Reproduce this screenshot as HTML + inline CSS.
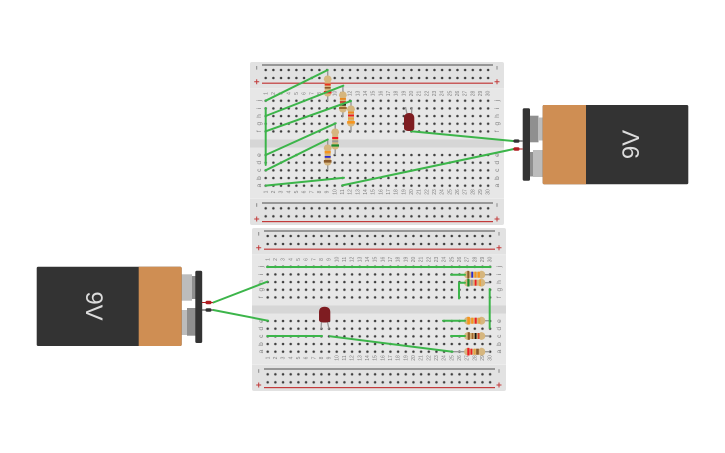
<!DOCTYPE html>
<html><head><meta charset="utf-8"><style>
html,body{margin:0;padding:0;background:#fff;width:725px;height:453px;overflow:hidden}
svg{display:block}
text{font-family:"Liberation Sans",sans-serif}
.n text{font-size:5px;fill:#808080;text-anchor:middle}
.w{stroke:#3cb54a;stroke-width:2;fill:none;stroke-linecap:round}
</style></head><body>
<svg width="725" height="453" viewBox="0 0 725 453" xmlns="http://www.w3.org/2000/svg">
<defs>
<pattern id="h" patternUnits="userSpaceOnUse" width="7.67" height="7.67">
<circle cx="3.835" cy="3.835" r="1.25" fill="#3d3d3d"/>
</pattern>
<pattern id="r" patternUnits="userSpaceOnUse" width="7.67" height="8">
<circle cx="3.835" cy="4" r="1.25" fill="#3d3d3d"/>
</pattern>
<g id="nums" class="n">
<text transform="translate(17.3,0) rotate(-90)">1</text><text transform="translate(25,0) rotate(-90)">2</text><text transform="translate(32.6,0) rotate(-90)">3</text><text transform="translate(40.3,0) rotate(-90)">4</text><text transform="translate(48,0) rotate(-90)">5</text><text transform="translate(55.6,0) rotate(-90)">6</text><text transform="translate(63.3,0) rotate(-90)">7</text><text transform="translate(71,0) rotate(-90)">8</text><text transform="translate(78.6,0) rotate(-90)">9</text><text transform="translate(86.3,0) rotate(-90)">10</text><text transform="translate(94,0) rotate(-90)">11</text><text transform="translate(101.7,0) rotate(-90)">12</text><text transform="translate(109.3,0) rotate(-90)">13</text><text transform="translate(117,0) rotate(-90)">14</text><text transform="translate(124.7,0) rotate(-90)">15</text><text transform="translate(132.3,0) rotate(-90)">16</text><text transform="translate(140,0) rotate(-90)">17</text><text transform="translate(147.7,0) rotate(-90)">18</text><text transform="translate(155.3,0) rotate(-90)">19</text><text transform="translate(163,0) rotate(-90)">20</text><text transform="translate(170.7,0) rotate(-90)">21</text><text transform="translate(178.3,0) rotate(-90)">22</text><text transform="translate(186,0) rotate(-90)">23</text><text transform="translate(193.7,0) rotate(-90)">24</text><text transform="translate(201.4,0) rotate(-90)">25</text><text transform="translate(209,0) rotate(-90)">26</text><text transform="translate(216.7,0) rotate(-90)">27</text><text transform="translate(224.4,0) rotate(-90)">28</text><text transform="translate(232,0) rotate(-90)">29</text><text transform="translate(239.7,0) rotate(-90)">30</text>
</g>
<g id="lets" class="n">
<text transform="translate(0,38.7) rotate(-90)" dy="1.8" style="font-size:6.5px">j</text><text transform="translate(0,46.4) rotate(-90)" dy="1.8" style="font-size:6.5px">i</text><text transform="translate(0,54) rotate(-90)" dy="1.8" style="font-size:6.5px">h</text><text transform="translate(0,61.7) rotate(-90)" dy="1.8" style="font-size:6.5px">g</text><text transform="translate(0,69.4) rotate(-90)" dy="1.8" style="font-size:6.5px">f</text><text transform="translate(0,93) rotate(-90)" dy="1.8" style="font-size:6.5px">e</text><text transform="translate(0,100.7) rotate(-90)" dy="1.8" style="font-size:6.5px">d</text><text transform="translate(0,108.3) rotate(-90)" dy="1.8" style="font-size:6.5px">c</text><text transform="translate(0,116) rotate(-90)" dy="1.8" style="font-size:6.5px">b</text><text transform="translate(0,123.6) rotate(-90)" dy="1.8" style="font-size:6.5px">a</text>
</g>
<g id="board">
<rect width="254" height="163" rx="2" fill="#e2e2e2"/>
<rect y="27" width="254" height="109" fill="#e7e7e7"/>
<rect y="77.5" width="254" height="8" fill="#d6d6d6"/>
<rect y="26.4" width="254" height=".7" fill="#f0f0f0"/>
<rect y="136" width="254" height=".7" fill="#f0f0f0"/>
<rect x="12" y="2.4" width="231" height="1.2" fill="#666"/>
<rect x="12" y="20.6" width="231" height="1.2" fill="#c23a3a"/>
<rect x="12" y="140.4" width="231" height="1.2" fill="#666"/>
<rect x="12" y="159" width="231" height="1.2" fill="#c23a3a"/>
<g transform="translate(11.87,4)"><rect width="230.1" height="16" fill="url(#r)"/></g>
<g transform="translate(11.87,142.3)"><rect width="230.1" height="16" fill="url(#r)"/></g>
<g transform="translate(11.87,34.87)"><rect width="230.1" height="38.35" fill="url(#h)"/></g>
<g transform="translate(11.87,89.15)"><rect width="230.1" height="38.35" fill="url(#h)"/></g>
<use href="#nums" y="31.5"/><use href="#nums" y="130"/>
<use href="#lets" x="9"/><use href="#lets" x="247"/>
<rect x="6.2" y="4" width="1" height="3.6" fill="#888"/>
<rect x="246.5" y="4" width="1" height="3.6" fill="#888"/>
<path d="M4.2 19.7h5M6.7 17.2v5M244.5 19.7h5M247 17.2v5" stroke="#c23a3a" stroke-width="1"/>
<rect x="6.2" y="141.2" width="1" height="3.6" fill="#888"/>
<rect x="246.5" y="141.2" width="1" height="3.6" fill="#888"/>
<path d="M4.2 157h5M6.7 154.5v5M244.5 157h5M247 154.5v5" stroke="#c23a3a" stroke-width="1"/>
</g>
<path id="rb" d="M-10.5 0C-10.5-3.2-8-3.9-6-3.9L-5-3H5L6-3.9C8-3.9 10.5-3.2 10.5 0C10.5 3.2 8 3.9 6 3.9L5 3H-5L-6 3.9C-8 3.9-10.5 3.2-10.5 0Z" fill="#d6b67e"/>
</defs>

<use href="#board" x="250" y="62"/>
<use href="#board" x="252" y="228"/>

<!-- top board resistors -->
<g stroke="#999" stroke-width="1.4">
<path d="M327.7 70V101M342.9 86V117M351 101V132M335.2 124V155M327.7 139V170"/>
</g>
<g transform="translate(327.7,86) rotate(90)"><use href="#rb"/><rect x="-2.5" y="-3" width="2" height="6" fill="#e8321e"/><rect x="1" y="-3" width="1.6" height="6" fill="#8a5a2b"/><rect x="5" y="-3.8" width="2.4" height="7.6" fill="#ee1c25"/></g>
<g transform="translate(342.9,102) rotate(90)"><use href="#rb"/><rect x="-4" y="-3" width="1.8" height="6" fill="#e8871e"/><rect x="-.8" y="-3" width="1.6" height="6" fill="#c8302a"/><rect x="1.6" y="-3" width="2" height="6" fill="#111"/><rect x="5" y="-3.8" width="2" height="7.6" fill="#9a6a30"/></g>
<g transform="translate(351,116) rotate(90)"><use href="#rb"/><rect x="-4.4" y="-3" width="1.8" height="6" fill="#f08a1e"/><rect x="-1.4" y="-3" width="1.8" height="6" fill="#ee1c25"/><rect x="1.6" y="-3" width="1.8" height="6" fill="#e8a23e"/><rect x="5" y="-3.8" width="2.6" height="7.6" fill="#f7941d"/></g>
<g transform="translate(335.2,139) rotate(90)"><use href="#rb"/><rect x="-2" y="-3" width="2" height="6" fill="#ee1c25"/><rect x="1.3" y="-3" width="2" height="6" fill="#9a9a9a"/><rect x="5.4" y="-3.8" width="2.2" height="7.6" fill="#1c8a2e"/></g>
<g transform="translate(327.7,155) rotate(90)"><use href="#rb"/><rect x="-4" y="-3" width="2.4" height="6" fill="#f7941d"/><rect x="1" y="-3" width="1.8" height="6" fill="#2a2ad0"/><rect x="5" y="-3.8" width="2.6" height="7.6" fill="#8a5a2b"/></g>

<!-- top board wires -->
<g class="w">
<path d="M265.7 100.7L327.7 70M265.7 116L343.3 85.7M265.7 131.3L351 101M265.7 155L335.7 123.3M265.7 170.3L327.7 139.5M265.7 108V165M265.7 185.6L344 177.8M342.3 185.4L514 149M411 131.3L513 141"/>
</g>

<!-- top LED -->
<path d="M405.5 107L407 114M412 107L411.5 114" stroke="#999" stroke-width="1.3"/>
<path d="M404 118C404 115 406 113 409.2 113C412.4 113 414.3 115 414.3 118V128C414.3 130 412.5 131 409.2 131C406 131 404 130 404 128Z" fill="#7e1c21"/>

<!-- right battery -->
<rect x="530" y="115.7" width="8.5" height="26.6" fill="#8f8f8f"/>
<rect x="538" y="117.5" width="5" height="23" fill="#bcbcbc"/>
<rect x="530" y="152" width="3.5" height="24.5" fill="#8f8f8f"/>
<rect x="533" y="150" width="10" height="27" fill="#bcbcbc"/>
<rect x="522.7" y="108.3" width="7.3" height="72.4" rx="1.5" fill="#333"/>
<rect x="542.7" y="105" width="145.6" height="79.3" rx="1.5" fill="#333"/>
<path d="M586 105H544.2a1.5 1.5 0 0 0-1.5 1.5V182.8a1.5 1.5 0 0 0 1.5 1.5H586Z" fill="#cf8e53"/>
<text transform="translate(639,144.5) rotate(-90)" font-size="24" fill="#dcdcdc" text-anchor="middle">9V</text>
<path d="M513 141H522.7" stroke="#333" stroke-width="1"/><rect x="513.5" y="139.4" width="6" height="3.4" rx="1.5" fill="#333"/>
<path d="M513 149H522.7" stroke="#b01e22" stroke-width="1"/><rect x="513.5" y="147.3" width="6" height="3.4" rx="1.5" fill="#b01e22"/>

<!-- bottom board resistors -->
<path d="M459 274.7H489.7M459 282.7H489.7M452 320.7H489.7M452 336H489.7M452 351.7H489.7" stroke="#999" stroke-width="1.4"/>
<g transform="translate(474.7,274.7)"><use href="#rb"/><rect x="-7.4" y="-3.8" width="2" height="7.6" fill="#8a5a2b"/><rect x="-3.4" y="-3" width="1.8" height="6" fill="#2a2ad0"/><rect x="-.2" y="-3" width="1.8" height="6" fill="#f7941d"/><rect x="3" y="-3" width="2.2" height="6" fill="#f7941d"/></g>
<g transform="translate(474.7,282.7)"><use href="#rb"/><rect x="-7.4" y="-3.8" width="2.2" height="7.6" fill="#1c8a2e"/><rect x="-4" y="-3" width="2" height="6" fill="#9a9a9a"/><rect x="0" y="-3" width="1.8" height="6" fill="#ee1c25"/><rect x="4.5" y="-3.4" width="1.8" height="6.8" fill="#e8a23e"/></g>
<g transform="translate(474.7,320.7)"><use href="#rb"/><rect x="-7.4" y="-3.8" width="2.6" height="7.6" fill="#f7941d"/><rect x="-3.4" y="-3" width="2" height="6" fill="#f7941d"/><rect x="0" y="-3" width="2" height="6" fill="#ee1c25"/><rect x="3.6" y="-3" width="2" height="6" fill="#e8a23e"/></g>
<g transform="translate(474.7,336)"><use href="#rb"/><rect x="-7" y="-3.8" width="2.2" height="7.6" fill="#8a5a2b"/><rect x="-3" y="-3" width="1.6" height="6" fill="#a0632c"/><rect x="0" y="-3" width="1.8" height="6" fill="#111"/><rect x="3" y="-3" width="1.8" height="6" fill="#d0402a"/></g>
<g transform="translate(474.7,351.7)"><use href="#rb"/><rect x="-7.4" y="-3.8" width="2.2" height="7.6" fill="#ee1c25"/><rect x="-4.2" y="-3" width="1.8" height="6" fill="#ee1c25"/><rect x="-.8" y="-3" width="1.6" height="6" fill="#e8a23e"/><rect x="1.5" y="-3" width="2.6" height="6" fill="#8a5a2b"/></g>

<!-- bottom board wires -->
<g class="w">
<path d="M267 267H490.5M451 274.7H465M459 282.7H465M459 282.7V298.5M489.7 289V328M443 320.7H465M451 336H465M330 336.3L452.5 351.7M267.3 336H322M213.3 302.5L267.3 281.7M213.3 310L268 320.7"/>
</g>

<!-- bottom LED -->
<path d="M321.5 322L321 329M327.5 322L329 329" stroke="#999" stroke-width="1.3"/>
<path d="M319 312C319 308.5 321 306.7 324.6 306.7C328.2 306.7 330.3 308.5 330.3 312V320C330.3 321.6 328.5 322.5 324.6 322.5C321 322.5 319 321.6 319 320Z" fill="#7e1c21"/>

<!-- left battery -->
<rect x="181" y="274.3" width="11" height="26.4" fill="#bcbcbc"/>
<rect x="192" y="276" width="3.5" height="23" fill="#8f8f8f"/>
<rect x="181" y="310" width="6" height="25" fill="#bcbcbc"/>
<rect x="187" y="308" width="8.5" height="27.7" fill="#8f8f8f"/>
<rect x="195.3" y="270.7" width="6.9" height="72.3" rx="1.5" fill="#333"/>
<rect x="36.7" y="266.7" width="145" height="79.3" rx="1.5" fill="#333"/>
<path d="M138.7 266.7H180.2a1.5 1.5 0 0 1 1.5 1.5V344.5a1.5 1.5 0 0 1-1.5 1.5H138.7Z" fill="#cf8e53"/>
<text transform="translate(86,306) rotate(90)" font-size="24" fill="#dcdcdc" text-anchor="middle">9V</text>
<path d="M202 302.5H213" stroke="#b01e22" stroke-width="1"/><rect x="205.5" y="300.8" width="6" height="3.4" rx="1.5" fill="#b01e22"/>
<path d="M202 310H213" stroke="#333" stroke-width="1"/><rect x="205.5" y="308.3" width="6" height="3.4" rx="1.5" fill="#333"/>
</svg>
</body></html>
